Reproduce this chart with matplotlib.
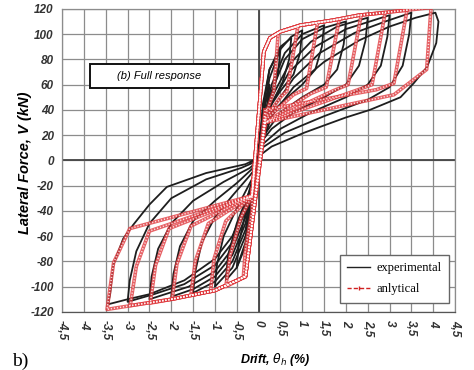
import matplotlib.pyplot as plt
from matplotlib.lines import Line2D
from matplotlib.patches import Rectangle

# ---- experimental loops (drift %, force kN) ----
exp_c1_drift = [0, 0.1, 0.25, 0.2, 0.05, 0, -0.1, -0.25, -0.2, -0.05, 0]
exp_c1_force = [3, 35, 60, 40, 15, 8, -30, -60, -40, -12, -4]
exp_c2_drift = [0, 0.1, 0.25, 0.5, 0.45, 0.3, 0.1, 0, -0.1, -0.3, -0.5, -0.45, -0.3, -0.1, 0]
exp_c2_force = [5, 45, 72, 88, 70, 50, 30, 12, -30, -68, -85, -65, -42, -18, -6]
exp_c3_drift = [0, 0.1, 0.25, 0.5, 0.75, 0.7, 0.55, 0.3, 0, -0.1, -0.3, -0.5, -0.75, -0.7, -0.5, -0.25, 0]
exp_c3_force = [6, 40, 72, 90, 97, 80, 62, 45, 15, -25, -65, -85, -95, -75, -50, -28, -6]
exp_c4_drift = [0, 0.1, 0.25, 0.5, 0.75, 1.0, 0.95, 0.8, 0.5, 0.25, 0, -0.1, -0.3, -0.6, -1.0,
                -0.95, -0.8, -0.5, -0.2, 0]
exp_c4_force = [6, 35, 65, 88, 98, 103, 85, 68, 55, 42, 15, -22, -60, -85, -100,
                -82, -60, -38, -18, -5]
exp_c5_drift = [0, 0.1, 0.3, 0.6, 1.0, 1.5, 1.45, 1.3, 1.0, 0.6, 0.3, 0, -0.1, -0.3, -0.6, -1.0, -1.5,
                -1.45, -1.3, -1.0, -0.6, -0.2, 0]
exp_c5_force = [5, 30, 60, 85, 100, 107, 90, 72, 60, 48, 38, 15, -18, -55, -80, -96, -105,
                -88, -65, -45, -28, -12, -3]
exp_c6_drift = [0, 0.1, 0.3, 0.6, 1.0, 1.5, 2.0, 1.95, 1.8, 1.5, 1.0, 0.5, 0, -0.1, -0.3, -0.6, -1.0,
                -1.5, -2.0, -1.95, -1.8, -1.5, -1.0, -0.5, 0]
exp_c6_force = [4, 28, 55, 80, 96, 105, 110, 92, 72, 60, 50, 38, 14, -16, -50, -75, -92,
                -102, -108, -90, -68, -48, -32, -18, -2]
exp_c7_drift = [0, 0.1, 0.3, 0.7, 1.2, 1.8, 2.5, 2.45, 2.3, 2.0, 1.5, 0.8, 0.3, 0, -0.1, -0.3, -0.6,
                -1.0, -1.6, -2.5, -2.45, -2.3, -2.0, -1.5, -0.8, -0.2, 0]
exp_c7_force = [3, 25, 50, 76, 94, 106, 113, 95, 75, 60, 50, 38, 25, 12, -14, -45, -70,
                -88, -100, -110, -92, -70, -50, -32, -17, -6, 0]
exp_c8_drift = [0, 0.1, 0.3, 0.7, 1.3, 2.0, 3.0, 2.95, 2.8, 2.5, 2.0, 1.2, 0.5, 0, -0.1, -0.3, -0.6,
                -1.0, -1.7, -2.4, -3.0, -2.95, -2.8, -2.5, -2.0, -1.2, -0.4, 0]
exp_c8_force = [2, 22, 45, 70, 90, 104, 115, 98, 75, 60, 50, 38, 25, 10, -12, -40, -65,
                -83, -98, -106, -112, -95, -72, -50, -30, -15, -6, 0]
exp_c9_drift = [0, 0.1, 0.3, 0.8, 1.4, 2.2, 2.9, 3.5, 3.45, 3.3, 3.0, 2.5, 1.5, 0.6, 0, -0.1, -0.3,
                -0.6, -1.0, -1.7, -2.5, -3.0, -3.45, -3.4, -3.33, -3.1, -2.87, -2.5, -2.1, -1.2,
                -0.3, 0]
exp_c9_force = [0, 18, 40, 65, 85, 101, 110, 117, 100, 75, 58, 48, 35, 22, 8, -10, -35,
                -60, -78, -95, -106, -110, -114, -106, -83, -62, -51, -35, -21, -10,
                -3, 2]
exp_c10_drift = [-0.1, 0, 0.1, 0.3, 0.8, 1.5, 2.3, 3.0, 3.6, 4.05, 4.12, 4.07, 3.86, 3.55, 3.25,
                 2.55, 2.0, 1.05, 0.3, -0.2]
exp_c10_force = [-12, -2, 15, 35, 58, 78, 95, 106, 113, 117, 110, 93, 74, 61, 50,
                 40, 34, 22, 11, -2]

# ---- analytical model ----
red_env_pos_drift = [0.12, 0.26, 0.5, 0.95, 1.7, 2.3, 3.95]
red_env_pos_force = [86, 97, 102, 107, 111, 115, 121]
red_env_neg_drift = [-0.3, -1.0, -2.0, -3.47]
red_env_neg_force = [-92, -103, -110, -118]

red_peak_pos_drift = [0.45, 0.9, 1.35, 1.85, 2.35, 2.9, 3.4, 3.95]
red_peak_pos_force = [101, 106, 109, 112, 115, 117, 119, 121]
red_unload_pos_drift = [0.35, 0.65, 1.1, 1.55, 2.05, 2.6, 3.1, 3.85]
red_unload_pos_force = [55, 55, 57, 58, 60, 60, 61, 72]
red_knee_pos_drift = [0.3, 0.5, 0.8, 1.2, 1.7, 2.2, 2.7, 3.1]
red_knee_pos_force = [50, 50, 52, 53, 55, 55, 56, 52]
red_return_pos_force = [35, 33, 32, 30, 30, 30, 40, 30]

red_peak_neg_drift = [-0.35, -0.75, -1.1, -1.55, -1.98, -2.48, -2.94, -3.47]
red_peak_neg_force = [-93, -100, -104, -107, -110, -113, -115, -118]
red_bend_neg_drift = [-0.3, -0.65, -1.02, -1.45, -1.87, -2.36, -2.8, -3.32]
red_bend_neg_force = [-70, -75, -78, -80, -82, -83, -84, -81]
red_top_neg_drift = [-0.15, -0.4, -0.75, -1.15, -1.55, -2.05, -2.5, -2.95]
red_top_neg_force = [-40, -45, -48, -50, -52, -54, -56, -54]
red_return_neg_force = [-28, -28, -28, -28, -28, -28, -28, -28]

xticks = [-4.5, -4, -3.5, -3, -2.5, -2, -1.5, -1, -0.5, 0, 0.5, 1, 1.5, 2, 2.5, 3, 3.5, 4, 4.5]
xlabels = ['-4,5', '-4', '-3,5', '-3', '-2,5', '-2', '-1,5', '-1', '-0,5', '0',
           '0,5', '1', '1,5', '2', '2,5', '3', '3,5', '4', '4,5']
yticks = [-120, -100, -80, -60, -40, -20, 0, 20, 40, 60, 80, 100, 120]

exp_loops = [(exp_c1_drift, exp_c1_force), (exp_c2_drift, exp_c2_force),
             (exp_c3_drift, exp_c3_force), (exp_c4_drift, exp_c4_force),
             (exp_c5_drift, exp_c5_force), (exp_c6_drift, exp_c6_force),
             (exp_c7_drift, exp_c7_force), (exp_c8_drift, exp_c8_force),
             (exp_c9_drift, exp_c9_force), (exp_c10_drift, exp_c10_force)]

fig = plt.figure(figsize=(4.74, 3.70), dpi=100)
ax = fig.add_axes([0.131, 0.157, 0.829, 0.819])

ax.set_xlim(-4.5, 4.5)
ax.set_ylim(-120, 120)
ax.set_xticks(xticks)
ax.set_yticks(yticks)
ax.set_xticklabels(xlabels, rotation=270, fontsize=8.5, fontweight='bold',
                   fontstyle='italic', family='Liberation Sans', color='#333333')
ax.set_yticklabels([str(v) for v in yticks], fontsize=8.5, fontweight='bold',
                   fontstyle='italic', family='Liberation Sans', color='#333333')
ax.tick_params(length=0, pad=6)
ax.grid(True, color='#8c8c8c', lw=0.9)
ax.set_axisbelow(True)
ax.axhline(0, color='#444444', lw=1.3, zorder=1)
ax.axvline(0, color='#444444', lw=1.3, zorder=1)
for s in ax.spines.values():
    s.set_color('#8c8c8c')
    s.set_linewidth(0.9)
ax.spines['bottom'].set_color('#555555')

# experimental
for d, f in exp_loops:
    ax.plot(d, f, color='#1e1e1e', lw=1.3, solid_joinstyle='round', zorder=2)

# analytical
for k in range(len(red_peak_pos_drift)):
    dx = [0.15]
    fy = [red_return_pos_force[k]]
    for x, y in zip(red_env_neg_drift, red_env_neg_force):
        if x > red_peak_neg_drift[k]:
            dx.append(x); fy.append(y)
    dx += [red_peak_neg_drift[k], red_bend_neg_drift[k], red_top_neg_drift[k], -0.15]
    fy += [red_peak_neg_force[k], red_bend_neg_force[k], red_top_neg_force[k], red_return_neg_force[k]]
    for x, y in zip(red_env_pos_drift, red_env_pos_force):
        if x < red_peak_pos_drift[k]:
            dx.append(x); fy.append(y)
    dx += [red_peak_pos_drift[k], red_unload_pos_drift[k], red_knee_pos_drift[k], 0.15]
    fy += [red_peak_pos_force[k], red_unload_pos_force[k], red_knee_pos_force[k], red_return_pos_force[k]]
    ax.plot(dx, fy, color='#e03a3e', lw=2.6, alpha=0.8, zorder=3)
    ax.plot(dx, fy, color='white', lw=1.1, ls=(0, (0.8, 1.2)), alpha=0.8, zorder=4)

# annotation box
ax.add_patch(Rectangle((0.071, 0.739), 0.354, 0.079, transform=ax.transAxes,
                       facecolor='white', edgecolor='#111111', lw=1.4, zorder=5))
ax.text(0.248, 0.779, '(b) Full response', transform=ax.transAxes, ha='center', va='center',
        fontsize=8, fontstyle='italic', family='Liberation Sans', zorder=6)

handles = [Line2D([], [], color='#222222', lw=1),
           Line2D([], [], color='#d02020', lw=1, ls=(0, (3, 1.5)), marker='|', ms=3)]
leg = ax.legend(handles, ['experimental', 'anlytical'], loc='lower right',
                bbox_to_anchor=(1.0, 0.01), fancybox=False, framealpha=1,
                edgecolor='#666666', prop={'family': 'Liberation Serif', 'size': 9},
                handlelength=1.8, handletextpad=0.5, borderpad=0.6, labelspacing=0.7)
leg.set_zorder(7)

fig.text(0.053, 0.56, 'Lateral Force, V (kN)', rotation=90, ha='center', va='center',
         fontsize=10.5, fontweight='bold', fontstyle='italic', family='Liberation Sans')
fig.text(0.58, 0.028, r'Drift, $\theta_h$ (%)', ha='center', va='center',
         fontsize=9, fontweight='bold', fontstyle='italic', family='Liberation Sans')
fig.text(0.025, 0.012, 'b)', fontsize=14, family='Liberation Serif')

fig.savefig('out.png', dpi=100)
